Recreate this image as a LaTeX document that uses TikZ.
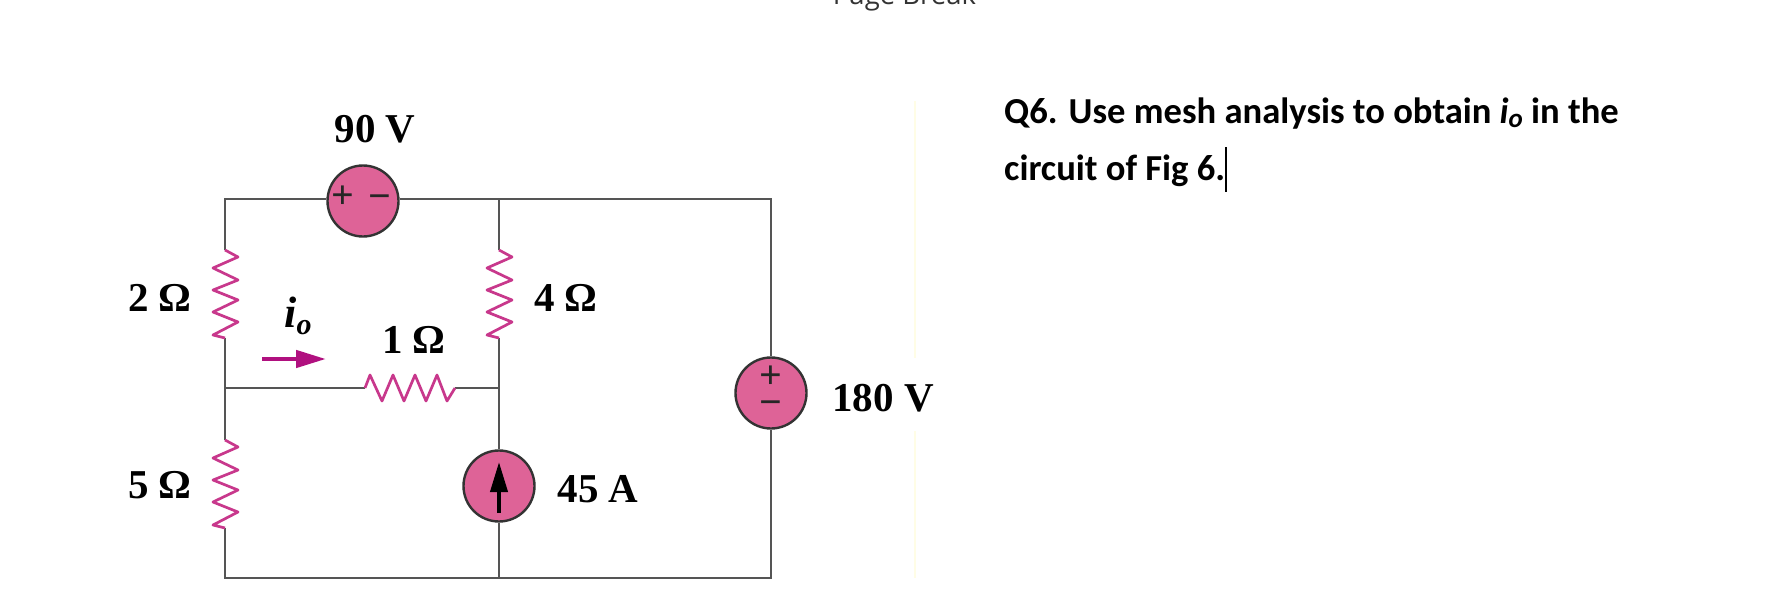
\documentclass[tikz,border=0pt]{standalone}
\usepackage{fontspec}
\setmainfont{Liberation Serif}
\newfontfamily\docfont{Carlito}
\newfontfamily\uifont{Open Sans}
\usetikzlibrary{arrows.meta}
\definecolor{wirec}{HTML}{555555}
\definecolor{resc}{HTML}{C8388C}
\definecolor{srcc}{HTML}{DE6397}
\definecolor{arrc}{HTML}{B0107F}
\definecolor{yel}{HTML}{FFFDE6}
\tikzset{
 wire/.style={draw=wirec,line width=2.8pt,line join=miter},
 zig/.style={draw=resc,line width=2.7pt,line join=round},
 src/.style={circle,draw=black!80,line width=2.4pt,fill=srcc,minimum size=71pt,inner sep=0pt},
 lab/.style={font=\fontsize{41}{41}\selectfont\bfseries,inner sep=0pt,anchor=base,text=black},
 sgn/.style={font=\fontsize{40}{40}\selectfont\bfseries,inner sep=0pt,text=black!85},
 doc/.style={font=\docfont\fontsize{36.6}{37}\selectfont\bfseries,inner sep=0pt,anchor=base west,text=black}
}
\begin{document}
\begin{tikzpicture}[x=1pt,y=-1pt]
\useasboundingbox (0,0) rectangle (1773,613);
% faint yellow rule
\coordinate (ya) at (915,101); \coordinate (yb) at (915,358);
\coordinate (yc) at (915,431); \coordinate (yd) at (915,578);
\draw[yel,line width=2.4pt] (ya)--(yb) (yc)--(yd);
% junctions
\coordinate (tl) at (225,199); \coordinate (tm) at (499,199); \coordinate (tr) at (771,199);
\coordinate (ml) at (225,388); \coordinate (mm) at (499,388);
\coordinate (bl) at (225,578); \coordinate (bm) at (499,578); \coordinate (br) at (771,578);
\coordinate (r2a) at (225,250); \coordinate (r2b) at (225,338);
\coordinate (r4a) at (499,250); \coordinate (r4b) at (499,338);
\coordinate (r5a) at (225,440); \coordinate (r5b) at (225,528);
\coordinate (r1a) at (365,388); \coordinate (r1b) at (455,388);
% sources
\node[src] (v90) at (363,201) {};
\node[src] (v180) at (771,393) {};
\node[src] (i45) at (499,486) {};
% wires
\draw[wire] (r2a)--(tl)--(tl -| v90.west);
\draw[wire] (tl -| v90.east)--(tm)--(tr)--(v180);
\draw[wire] (tm)--(r4a);
\draw[wire] (r2b)--(r5a);
\draw[wire] (ml)--(r1a);
\draw[wire] (r1b)--(mm);
\draw[wire] (r4b)--(i45);
\draw[wire] (i45)--(bm);
\draw[wire] (r5b)--(bl)--(br)--(v180);
% resistors
\foreach \n in {r2a,r4a,r5a}{
 \draw[zig] (\n) -- ++(13,7) -- ++(-25,11) -- ++(25,12) -- ++(-25,10) -- ++(25,10) -- ++(-25,12) -- ++(25,10) -- ++(-25,13) -- ++(12,3);
}
\draw[zig] (r1a) -- ++(5,-13) -- ++(12,26) -- ++(11,-26) -- ++(11,26) -- ++(11,-26) -- ++(11,26) -- ++(11,-26) -- ++(10,26) -- ++(8,-13);
% source signs
\node[sgn] (p90) at (343,197) {+};
\node[sgn] (m90) at (380,202) {−};
\node[sgn] (p180) at (771,377) {+};
\node[sgn] (m180) at (771,408) {−};
\coordinate (ia) at (499,513); \coordinate (ib) at (499,462);
\draw[black,line width=4pt,-{Triangle[length=30pt,width=17pt]}] (ia)--(ib);
% current arrow
\coordinate (aa) at (262,359); \coordinate (ab) at (326,359);
\draw[arrc,line width=4.5pt,-{Triangle[length=30pt,width=17pt]}] (aa)--(ab);
% labels
\node[lab] (l90) at (375,142) {90 V};
\node[lab] (l2) at (160,311) {2 Ω};
\node[lab] (l4) at (566,311) {4 Ω};
\node[lab] (l1) at (414,353) {1 Ω};
\node[lab] (l5) at (160,498) {5 Ω};
\node[lab] (l45) at (598,502) {45 A};
\node[lab] (l180) at (883,411) {180 V};
\node[lab,font=\fontsize{44}{44}\selectfont\bfseries\itshape] (lio) at (298,327) {i\raisebox{-7pt}{\fontsize{30}{30}\selectfont o}};
% document text
\node[doc] (q1) at (1004,123) {Q6. Use mesh analysis to obtain \textit{i\raisebox{-4pt}{\fontsize{27}{27}\selectfont o}} in the};
\node[doc] (q2) at (1004,180) {circuit of Fig 6.};
\coordinate (ca) at (1226,147); \coordinate (cb) at (1226,192);
\draw[black,line width=1.8pt] (ca)--(cb);
\node[font=\uifont\fontsize{27.5}{28}\selectfont,inner sep=0pt,anchor=base,text=black!80] (pb) at (904.5,5) {Page Break};
\end{tikzpicture}
\end{document}
